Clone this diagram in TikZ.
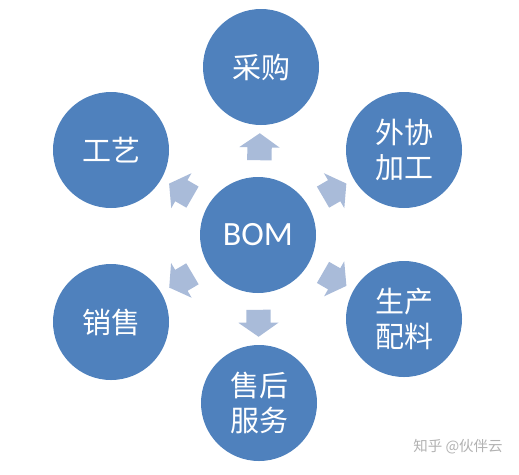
\documentclass[tikz,border=0pt]{standalone}
\usepackage{fontspec}
\setmainfont{Carlito}
\newfontfamily\cjk{Noto Sans CJK SC}
\usepackage{tikz}
\usetikzlibrary{shapes.arrows}
\definecolor{cblue}{HTML}{4F81BD}
\definecolor{ablue}{HTML}{A9BBD9}
\tikzset{
    circ/.style={circle, fill=cblue, minimum size=116pt, inner sep=0pt, text=white,
        font=\cjk\fontsize{29}{35}\selectfont, align=center},
    blockarr/.style={single arrow, fill=ablue, draw=none, inner xsep=0pt, inner ysep=12pt,
        minimum height=27pt, minimum width=40pt, single arrow head extend=8pt,
        single arrow tip angle=110, sloped, allow upside down, pos=0.5}
}

\begin{document}
\begin{tikzpicture}[x=1pt, y=-1pt]
    \useasboundingbox (0,0) rectangle (519,474);

    % Centre
    \node[circ, font=\fontsize{34}{40}\selectfont] (bom) at (258,235) {BOM};

    % Ring of six
    \node[circ] (caigou) at (261,67) {采购};
    \node[circ] (waixie) at (404,150) {外协\\加工};
    \node[circ] (shengchan) at (404,319) {生产\\配料};
    \node[circ] (shouhou) at (259,403) {售后\\服务};
    \node[circ] (xiaoshou) at (111,322) {销售};
    \node[circ] (gongyi) at (111,150) {工艺};

    % Block arrows outwards
    \foreach \t in {caigou, waixie, shengchan, shouhou, xiaoshou, gongyi}
        \path (bom) -- node[blockarr] {} (\t);

    % Watermark
    \node[text=black!30, font=\cjk\fontsize{14.5}{16}\selectfont] (mark) at (458,447) {知乎 @伙伴云};
\end{tikzpicture}
\end{document}
